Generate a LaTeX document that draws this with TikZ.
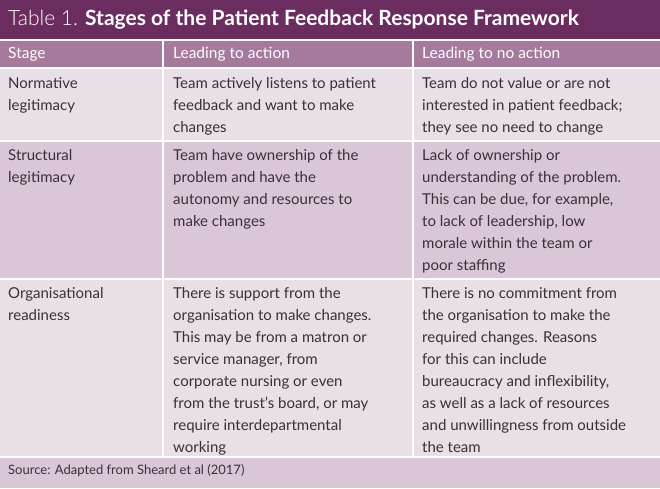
\documentclass[tikz,border=0pt]{standalone}
\usepackage{fontspec}
\setmainfont{Lato}
\definecolor{ttl}{HTML}{6B2D5F}
\definecolor{hdr}{HTML}{A57A9C}
\definecolor{lite}{HTML}{E8DFE7}
\definecolor{dark}{HTML}{D9C7D7}
\definecolor{txt}{HTML}{3A3035}
\begin{document}
\begin{tikzpicture}[x=1pt,y=-1pt,
  cell/.style={anchor=north west,inner sep=0pt,align=left,font=\fontsize{15}{22}\selectfont,text=txt},
  hcell/.style={anchor=west,inner sep=0pt,font=\fontsize{15.5}{20}\selectfont,text=white},
  sep/.style={white,line width=1.6pt}]
\useasboundingbox (0,0) rectangle (660,488);
\fill[ttl] (0,0) rectangle (660,39);
\fill[hdr] (0,40) rectangle (660,68);
\fill[lite] (0,68) rectangle (660,141);
\fill[dark] (0,141) rectangle (660,279);
\fill[lite] (0,279) rectangle (660,457);
\fill[dark] (0,457) rectangle (660,488);
\draw[sep] (0,40) -- (660,40);
\draw[sep] (0,68) -- (660,68);
\draw[sep] (0,141) -- (660,141);
\draw[sep] (0,279) -- (660,279);
\draw[sep] (0,457) -- (660,457);
\draw[sep] (163,40) -- (163,457);
\draw[sep] (413,40) -- (413,457);
\node[anchor=west,inner sep=0pt,text=white,font=\fontsize{21}{24}\selectfont] (title) at (8,20) {{\fontspec{Lato Light}Table 1.} \textbf{Stages of the Patient Feedback Response Framework}};
\node[hcell] (h1) at (8,54) {Stage};
\node[hcell] (h2) at (173,54) {Leading to action};
\node[hcell] (h3) at (422,54) {Leading to no action};
\node[cell] (a1) at (8,77) {Normative\\legitimacy};
\node[cell] (a2) at (173,77) {Team actively listens to patient\\feedback and want to make\\changes};
\node[cell] (a3) at (422,77) {Team do not value or are not\\interested in patient feedback;\\they see no need to change};
\node[cell] (b1) at (8,149) {Structural\\legitimacy};
\node[cell] (b2) at (173,149) {Team have ownership of the\\problem and have the\\autonomy and resources to\\make changes};
\node[cell] (b3) at (422,149) {Lack of ownership or\\understanding of the problem.\\This can be due, for example,\\to lack of leadership, low\\morale within the team or\\poor staffing};
\node[cell] (c1) at (8,287) {Organisational\\readiness};
\node[cell] (c2) at (173,287) {There is support from the\\organisation to make changes.\\This may be from a matron or\\service manager, from\\corporate nursing or even\\from the trust's board, or may\\require interdepartmental\\working};
\node[cell] (c3) at (422,287) {There is no commitment from\\the organisation to make the\\required changes. Reasons\\for this can include\\bureaucracy and inflexibility,\\as well as a lack of resources\\and unwillingness from outside\\the team};
\node[anchor=west,inner sep=0pt,text=txt,font=\fontsize{13}{16}\selectfont] (src) at (8,471) {Source: Adapted from Sheard et al (2017)};
\end{tikzpicture}
\end{document}
